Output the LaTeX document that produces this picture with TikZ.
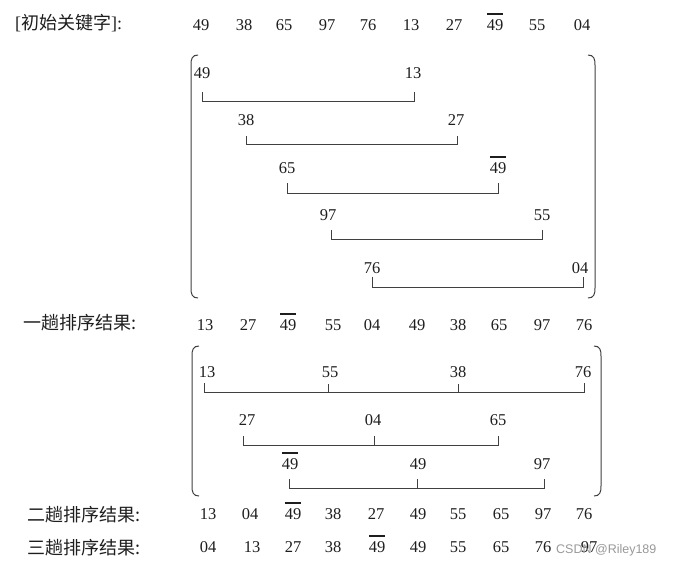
\documentclass[tikz,border=0pt]{standalone}
\usepackage{fontspec}
\setmainfont{Liberation Serif}
\newfontfamily\cjk{Noto Sans CJK SC}
\newfontfamily\wmfont{Liberation Sans}
\usetikzlibrary{calc}
\newcommand{\barnum}[1]{\setbox0\hbox{#1}\rlap{\raisebox{\dimexpr\ht0+5pt\relax}{\rule{\wd0}{1.1pt}}}\box0}
\definecolor{ink}{HTML}{1E1E1E}
\definecolor{wm}{HTML}{999999}
\tikzset{
  num/.style={inner sep=0pt, text height=11pt, text depth=0pt, font=\fontsize{16.5}{16.5}\selectfont, text=ink},
  lbl/.style={inner sep=0pt, anchor=west, font=\fontsize{18}{18}\selectfont\cjk, text=ink},
  link/.style={draw=ink!85, line width=0.9pt},
  brk/.style={draw=ink!85, line width=1pt},
}
\begin{document}
\begin{tikzpicture}[x=1pt,y=-1pt]
\useasboundingbox[fill=white] (0,0) rectangle (675,566);

% ---- initial keys
\node[lbl] (l0) at (15,23) {{\rmfamily[}初始关键字{\rmfamily]:}};
\foreach \v/\x [count=\i] in {49/201,38/244,65/284,97/327,76/368,13/411,27/454,\barnum{49}/495,55/537,04/582}
  \node[num] (k\i) at (\x,25) {\v};

% ---- pass 1 brackets
\draw[brk] (198,55) .. controls (192,55) and (191,59) .. (191,65) -- (191,288) .. controls (191,294) and (192,298) .. (198,298);
\draw[brk] (588,55) .. controls (594,55) and (595,59) .. (595,65) -- (595,288) .. controls (595,294) and (594,298) .. (588,298);

\node[num] (a1) at (202,73) {49};
\node[num] (b1) at (413,73) {13};
\node[num] (a2) at (246,120) {38};
\node[num] (b2) at (456,120) {27};
\node[num] (a3) at (287,168) {65};
\node[num] (b3) at (498,168) {\barnum{49}};
\node[num] (a4) at (328,215) {97};
\node[num] (b4) at (542,215) {55};
\node[num] (a5) at (372,268) {76};
\node[num] (b5) at (580,268) {04};

\draw[link] ($(a1.center)+(0,19)$) -- ($(a1.center)+(0,28)$) -| ($(b1.center)+(1,19)$);
\draw[link] ($(a2.center)+(0,16)$) -- ($(a2.center)+(0,24)$) -| ($(b2.center)+(1,16)$);
\draw[link] ($(a3.center)+(0,15)$) -- ($(a3.center)+(0,25)$) -| ($(b3.center)+(0,15)$);
\draw[link] ($(a4.center)+(3,15)$) -- ($(a4.center)+(3,24)$) -| ($(b4.center)+(0,15)$);
\draw[link] ($(a5.center)+(0,9)$) -- ($(a5.center)+(0,19)$) -| ($(b5.center)+(3,9)$);

% ---- pass 1 result
\node[lbl] (l1) at (23,323) {一趟排序结果:};
\foreach \v/\x [count=\i] in {13/205,27/248,\barnum{49}/288,55/333,04/372,49/417,38/458,65/499,97/542,76/584}
  \node[num] (p\i) at (\x,325) {\v};

% ---- pass 2 brackets
\draw[brk] (199,346) .. controls (193,346) and (192,350) .. (192,356) -- (192,486) .. controls (192,492) and (193,496) .. (199,496);
\draw[brk] (594,346) .. controls (600,346) and (601,350) .. (601,356) -- (601,486) .. controls (601,492) and (600,496) .. (594,496);

\node[num] (c1) at (207,372) {13};
\node[num] (c2) at (330,372) {55};
\node[num] (c3) at (458,372) {38};
\node[num] (c4) at (583,372) {76};
\node[num] (d1) at (247,420) {27};
\node[num] (d2) at (373,420) {04};
\node[num] (d3) at (498,420) {65};
\node[num] (e1) at (290,464) {\barnum{49}};
\node[num] (e2) at (418,464) {49};
\node[num] (e3) at (542,464) {97};

\draw[link] ($(c1.center)+(-3,11)$) -- ($(c1.center)+(-3,20)$) -| ($(c4.center)+(1,11)$);
\draw[link] ($(c2.center)+(-2,12)$) -- ($(c2.center)+(-2,20)$);
\draw[link] ($(c3.center)+(0,12)$) -- ($(c3.center)+(0,20)$);
\draw[link] ($(d1.center)+(-4,16)$) -- ($(d1.center)+(-4,25)$) -| ($(d3.center)+(0,16)$);
\draw[link] ($(d2.center)+(1,16)$) -- ($(d2.center)+(1,25)$);
\draw[link] ($(e1.center)+(-1,15)$) -- ($(e1.center)+(-1,24)$) -| ($(e3.center)+(2,15)$);
\draw[link] ($(e2.center)+(-1,15)$) -- ($(e2.center)+(-1,24)$);

% ---- pass 2 and 3 results
\node[lbl] (l2) at (27,515) {二趟排序结果:};
\foreach \v/\x [count=\i] in {13/208,04/250,\barnum{49}/293,38/333,27/376,49/418,55/458,65/501,97/543,76/584}
  \node[num] (q\i) at (\x,514) {\v};
\node[lbl] (l3) at (27,548) {三趟排序结果:};
\foreach \v/\x [count=\i] in {04/208,13/252,27/293,38/333,\barnum{49}/377,49/418,55/458,65/501,76/543,97/589}
  \node[num] (s\i) at (\x,547) {\v};

% ---- watermark
\node[inner sep=0pt, anchor=west, font=\fontsize{12.5}{12.5}\wmfont, text=wm] (wm) at (556,550) {CSDN @Riley189};
\end{tikzpicture}
\end{document}
